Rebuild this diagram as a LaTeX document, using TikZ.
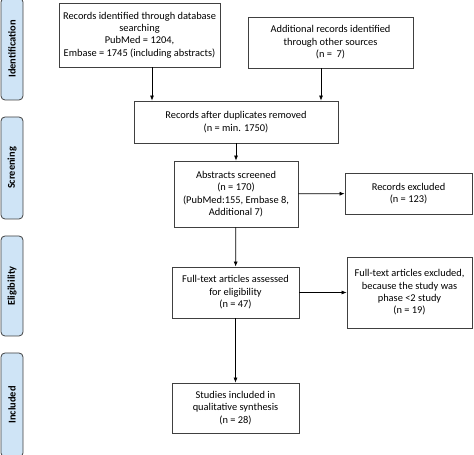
\documentclass[tikz,border=0pt]{standalone}
\usepackage{fontspec}
\setmainfont{Carlito}
\usetikzlibrary{arrows.meta}
\usetikzlibrary{positioning}

\definecolor{phasefill}{RGB}{207,228,246}
\definecolor{boxline}{RGB}{64,64,64}

\tikzset{
  flowbox/.style={draw=boxline,line width=0.8pt,align=center,inner sep=2pt,font=\fontsize{10.4}{12.4}\selectfont},
  phasebox/.style={draw=boxline,line width=0.8pt,fill=phasefill,rounded corners=4pt,minimum width=102pt,minimum height=22pt,rotate=90,font=\fontsize{10.4}{12}\selectfont\bfseries},
  arr/.style={-{Latex[length=5pt,width=4pt]},line width=0.7pt}
}

\begin{document}
\begin{tikzpicture}[x=1pt,y=1pt]
\useasboundingbox (0,0) rectangle (474,455);

\node[phasebox] (ident) at (12,406) {Identification};
\node[phasebox] (screen) at (12,287) {Screening};
\node[phasebox,minimum width=100pt] (elig) at (12,169) {Eligibility};
\node[phasebox,minimum width=104pt] (incl) at (12,50) {Included};

\node[flowbox,minimum width=161pt,minimum height=64pt] (db) at (139.5,420) {Records identified through database\\searching\\PubMed = 1204,\\Embase = 1745 (including abstracts)};
\node[flowbox,minimum width=165pt,minimum height=51pt] (other) at (330.5,412.5) {Additional records identified\\through other sources\\(n =~~7)};
\node[flowbox,minimum width=204pt,minimum height=42pt] (dupl) at (236,333) {Records after duplicates removed\\(n = min. 1750)};
\node[flowbox,minimum width=124pt,minimum height=66pt] (abstr) at (236,261) {Abstracts screened\\(n = 170)\\(PubMed:155, Embase 8,\\Additional 7)};
\node[flowbox,minimum width=127pt,minimum height=41pt] (excl) at (408.5,261.5) {Records excluded\\(n = 123)};
\node[flowbox,minimum width=127pt,minimum height=51pt] (full) at (235.5,162.5) {Full-text articles assessed\\for eligibility\\(n = 47)};
\node[flowbox,minimum width=125pt,minimum height=71pt] (fullexcl) at (409.5,162.5) {Full-text articles excluded,\\because the study was\\phase <2 study\\(n = 19)};
\node[flowbox,minimum width=127pt,minimum height=50pt] (incl2) at (235.5,47) {Studies included in\\qualitative synthesis\\(n = 28)};

\draw[arr] ([xshift=12.5pt]db.south) -- ([xshift=12.5pt]db.south |- dupl.north);
\draw[arr] ([xshift=-9.5pt]other.south) -- ([xshift=-9.5pt]other.south |- dupl.north);
\draw[arr] (dupl) -- (abstr);
\draw[arr] (abstr) -- (excl);
\draw[arr] (abstr) -- (full);
\draw[arr] (full) -- (fullexcl);
\draw[arr] (full) -- (incl2);

\end{tikzpicture}
\end{document}
